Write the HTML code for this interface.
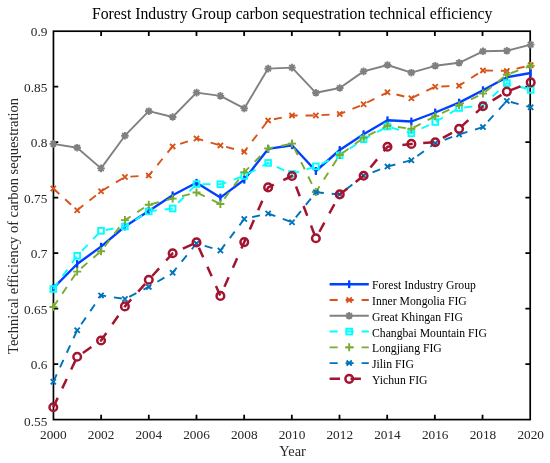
<!DOCTYPE html>
<html><head><meta charset="utf-8"><title>Forest Industry Group carbon sequestration technical efficiency</title>
<style>html,body{margin:0;padding:0;background:#fff}svg{display:block}text{font-family:"Liberation Serif","Times New Roman",serif;fill:#262626}</style></head><body>
<svg width="550" height="463" viewBox="0 0 550 463">
<rect width="550" height="463" fill="#fff"/>
<text x="292.2" y="18.9" font-size="15.73" text-anchor="middle" fill="#000" style="fill:#000">Forest Industry Group carbon sequestration technical efficiency</text>
<rect x="53.45" y="31.2" width="476.75" height="388.40" fill="none" stroke="#000" stroke-width="1.7"/>
<path d="M101.12 419.60v-4.8M101.12 31.20v4.8M148.80 419.60v-4.8M148.80 31.20v4.8M196.48 419.60v-4.8M196.48 31.20v4.8M244.15 419.60v-4.8M244.15 31.20v4.8M291.83 419.60v-4.8M291.83 31.20v4.8M339.50 419.60v-4.8M339.50 31.20v4.8M387.18 419.60v-4.8M387.18 31.20v4.8M434.85 419.60v-4.8M434.85 31.20v4.8M482.53 419.60v-4.8M482.53 31.20v4.8M53.45 364.11h4.8M530.20 364.11h-4.8M53.45 308.63h4.8M530.20 308.63h-4.8M53.45 253.14h4.8M530.20 253.14h-4.8M53.45 197.66h4.8M530.20 197.66h-4.8M53.45 142.17h4.8M530.20 142.17h-4.8M53.45 86.69h4.8M530.20 86.69h-4.8" stroke="#000" stroke-width="1.8" fill="none"/>
<g><polyline points="53.30,288.20 77.17,264.00 101.04,246.60 124.91,226.50 148.78,210.90 172.65,195.30 196.52,182.80 220.39,197.60 244.26,179.70 268.13,148.90 292.00,145.20 315.87,171.00 339.74,150.00 363.61,134.20 387.48,120.30 411.35,121.50 435.22,112.50 459.09,102.60 482.96,90.20 506.83,77.30 530.70,73.00" fill="none" stroke="#0040ff" stroke-width="2.4" stroke-linejoin="round"/>
<path d="M53.30 284.30V292.10" stroke="#0040ff" stroke-width="2.3" fill="none"/>
<path d="M77.17 260.10V267.90" stroke="#0040ff" stroke-width="2.3" fill="none"/>
<path d="M101.04 242.70V250.50" stroke="#0040ff" stroke-width="2.3" fill="none"/>
<path d="M124.91 222.60V230.40" stroke="#0040ff" stroke-width="2.3" fill="none"/>
<path d="M148.78 207.00V214.80" stroke="#0040ff" stroke-width="2.3" fill="none"/>
<path d="M172.65 191.40V199.20" stroke="#0040ff" stroke-width="2.3" fill="none"/>
<path d="M196.52 178.90V186.70" stroke="#0040ff" stroke-width="2.3" fill="none"/>
<path d="M220.39 193.70V201.50" stroke="#0040ff" stroke-width="2.3" fill="none"/>
<path d="M244.26 175.80V183.60" stroke="#0040ff" stroke-width="2.3" fill="none"/>
<path d="M268.13 145.00V152.80" stroke="#0040ff" stroke-width="2.3" fill="none"/>
<path d="M292.00 141.30V149.10" stroke="#0040ff" stroke-width="2.3" fill="none"/>
<path d="M315.87 167.10V174.90" stroke="#0040ff" stroke-width="2.3" fill="none"/>
<path d="M339.74 146.10V153.90" stroke="#0040ff" stroke-width="2.3" fill="none"/>
<path d="M363.61 130.30V138.10" stroke="#0040ff" stroke-width="2.3" fill="none"/>
<path d="M387.48 116.40V124.20" stroke="#0040ff" stroke-width="2.3" fill="none"/>
<path d="M411.35 117.60V125.40" stroke="#0040ff" stroke-width="2.3" fill="none"/>
<path d="M435.22 108.60V116.40" stroke="#0040ff" stroke-width="2.3" fill="none"/>
<path d="M459.09 98.70V106.50" stroke="#0040ff" stroke-width="2.3" fill="none"/>
<path d="M482.96 86.30V94.10" stroke="#0040ff" stroke-width="2.3" fill="none"/>
<path d="M506.83 73.40V81.20" stroke="#0040ff" stroke-width="2.3" fill="none"/>
<path d="M530.70 69.10V76.90" stroke="#0040ff" stroke-width="2.3" fill="none"/>
</g>
<g><polyline points="53.30,188.50 77.17,210.20 101.04,191.30 124.91,177.00 148.78,175.50 172.65,146.40 196.52,138.50 220.39,145.40 244.26,151.70 268.13,120.40 292.00,115.50 315.87,115.50 339.74,114.00 363.61,104.30 387.48,92.30 411.35,98.20 435.22,86.70 459.09,85.70 482.96,70.40 506.83,70.90 530.70,65.30" fill="none" stroke="#d95319" stroke-width="1.9" stroke-linejoin="round" stroke-dasharray="8.1,7.9"/>
<path d="M50.70 185.90L55.90 191.10M50.70 191.10L55.90 185.90" stroke="#d95319" stroke-width="1.9" fill="none"/>
<path d="M74.57 207.60L79.77 212.80M74.57 212.80L79.77 207.60" stroke="#d95319" stroke-width="1.9" fill="none"/>
<path d="M98.44 188.70L103.64 193.90M98.44 193.90L103.64 188.70" stroke="#d95319" stroke-width="1.9" fill="none"/>
<path d="M122.31 174.40L127.51 179.60M122.31 179.60L127.51 174.40" stroke="#d95319" stroke-width="1.9" fill="none"/>
<path d="M146.18 172.90L151.38 178.10M146.18 178.10L151.38 172.90" stroke="#d95319" stroke-width="1.9" fill="none"/>
<path d="M170.05 143.80L175.25 149.00M170.05 149.00L175.25 143.80" stroke="#d95319" stroke-width="1.9" fill="none"/>
<path d="M193.92 135.90L199.12 141.10M193.92 141.10L199.12 135.90" stroke="#d95319" stroke-width="1.9" fill="none"/>
<path d="M217.79 142.80L222.99 148.00M217.79 148.00L222.99 142.80" stroke="#d95319" stroke-width="1.9" fill="none"/>
<path d="M241.66 149.10L246.86 154.30M241.66 154.30L246.86 149.10" stroke="#d95319" stroke-width="1.9" fill="none"/>
<path d="M265.53 117.80L270.73 123.00M265.53 123.00L270.73 117.80" stroke="#d95319" stroke-width="1.9" fill="none"/>
<path d="M289.40 112.90L294.60 118.10M289.40 118.10L294.60 112.90" stroke="#d95319" stroke-width="1.9" fill="none"/>
<path d="M313.27 112.90L318.47 118.10M313.27 118.10L318.47 112.90" stroke="#d95319" stroke-width="1.9" fill="none"/>
<path d="M337.14 111.40L342.34 116.60M337.14 116.60L342.34 111.40" stroke="#d95319" stroke-width="1.9" fill="none"/>
<path d="M361.01 101.70L366.21 106.90M361.01 106.90L366.21 101.70" stroke="#d95319" stroke-width="1.9" fill="none"/>
<path d="M384.88 89.70L390.08 94.90M384.88 94.90L390.08 89.70" stroke="#d95319" stroke-width="1.9" fill="none"/>
<path d="M408.75 95.60L413.95 100.80M408.75 100.80L413.95 95.60" stroke="#d95319" stroke-width="1.9" fill="none"/>
<path d="M432.62 84.10L437.82 89.30M432.62 89.30L437.82 84.10" stroke="#d95319" stroke-width="1.9" fill="none"/>
<path d="M456.49 83.10L461.69 88.30M456.49 88.30L461.69 83.10" stroke="#d95319" stroke-width="1.9" fill="none"/>
<path d="M480.36 67.80L485.56 73.00M480.36 73.00L485.56 67.80" stroke="#d95319" stroke-width="1.9" fill="none"/>
<path d="M504.23 68.30L509.43 73.50M504.23 73.50L509.43 68.30" stroke="#d95319" stroke-width="1.9" fill="none"/>
<path d="M528.10 62.70L533.30 67.90M528.10 67.90L533.30 62.70" stroke="#d95319" stroke-width="1.9" fill="none"/>
</g>
<g><polyline points="53.30,143.90 77.17,147.70 101.04,168.40 124.91,135.70 148.78,111.20 172.65,117.00 196.52,92.60 220.39,95.90 244.26,108.40 268.13,68.60 292.00,67.60 315.87,92.80 339.74,88.00 363.61,71.40 387.48,65.00 411.35,72.70 435.22,65.80 459.09,62.80 482.96,51.30 506.83,50.80 530.70,44.60" fill="none" stroke="#808080" stroke-width="1.9" stroke-linejoin="round"/>
<path d="M49.50 143.90H57.10M53.30 140.10V147.70M50.60 141.20L56.00 146.60M50.60 146.60L56.00 141.20" stroke="#808080" stroke-width="1.9" fill="none"/>
<path d="M73.37 147.70H80.97M77.17 143.90V151.50M74.47 145.00L79.87 150.40M74.47 150.40L79.87 145.00" stroke="#808080" stroke-width="1.9" fill="none"/>
<path d="M97.24 168.40H104.84M101.04 164.60V172.20M98.34 165.70L103.74 171.10M98.34 171.10L103.74 165.70" stroke="#808080" stroke-width="1.9" fill="none"/>
<path d="M121.11 135.70H128.71M124.91 131.90V139.50M122.21 133.00L127.61 138.40M122.21 138.40L127.61 133.00" stroke="#808080" stroke-width="1.9" fill="none"/>
<path d="M144.98 111.20H152.58M148.78 107.40V115.00M146.08 108.50L151.48 113.90M146.08 113.90L151.48 108.50" stroke="#808080" stroke-width="1.9" fill="none"/>
<path d="M168.85 117.00H176.45M172.65 113.20V120.80M169.95 114.30L175.35 119.70M169.95 119.70L175.35 114.30" stroke="#808080" stroke-width="1.9" fill="none"/>
<path d="M192.72 92.60H200.32M196.52 88.80V96.40M193.82 89.90L199.22 95.30M193.82 95.30L199.22 89.90" stroke="#808080" stroke-width="1.9" fill="none"/>
<path d="M216.59 95.90H224.19M220.39 92.10V99.70M217.69 93.20L223.09 98.60M217.69 98.60L223.09 93.20" stroke="#808080" stroke-width="1.9" fill="none"/>
<path d="M240.46 108.40H248.06M244.26 104.60V112.20M241.56 105.70L246.96 111.10M241.56 111.10L246.96 105.70" stroke="#808080" stroke-width="1.9" fill="none"/>
<path d="M264.33 68.60H271.93M268.13 64.80V72.40M265.43 65.90L270.83 71.30M265.43 71.30L270.83 65.90" stroke="#808080" stroke-width="1.9" fill="none"/>
<path d="M288.20 67.60H295.80M292.00 63.80V71.40M289.30 64.90L294.70 70.30M289.30 70.30L294.70 64.90" stroke="#808080" stroke-width="1.9" fill="none"/>
<path d="M312.07 92.80H319.67M315.87 89.00V96.60M313.17 90.10L318.57 95.50M313.17 95.50L318.57 90.10" stroke="#808080" stroke-width="1.9" fill="none"/>
<path d="M335.94 88.00H343.54M339.74 84.20V91.80M337.04 85.30L342.44 90.70M337.04 90.70L342.44 85.30" stroke="#808080" stroke-width="1.9" fill="none"/>
<path d="M359.81 71.40H367.41M363.61 67.60V75.20M360.91 68.70L366.31 74.10M360.91 74.10L366.31 68.70" stroke="#808080" stroke-width="1.9" fill="none"/>
<path d="M383.68 65.00H391.28M387.48 61.20V68.80M384.78 62.30L390.18 67.70M384.78 67.70L390.18 62.30" stroke="#808080" stroke-width="1.9" fill="none"/>
<path d="M407.55 72.70H415.15M411.35 68.90V76.50M408.65 70.00L414.05 75.40M408.65 75.40L414.05 70.00" stroke="#808080" stroke-width="1.9" fill="none"/>
<path d="M431.42 65.80H439.02M435.22 62.00V69.60M432.52 63.10L437.92 68.50M432.52 68.50L437.92 63.10" stroke="#808080" stroke-width="1.9" fill="none"/>
<path d="M455.29 62.80H462.89M459.09 59.00V66.60M456.39 60.10L461.79 65.50M456.39 65.50L461.79 60.10" stroke="#808080" stroke-width="1.9" fill="none"/>
<path d="M479.16 51.30H486.76M482.96 47.50V55.10M480.26 48.60L485.66 54.00M480.26 54.00L485.66 48.60" stroke="#808080" stroke-width="1.9" fill="none"/>
<path d="M503.03 50.80H510.63M506.83 47.00V54.60M504.13 48.10L509.53 53.50M504.13 53.50L509.53 48.10" stroke="#808080" stroke-width="1.9" fill="none"/>
<path d="M526.90 44.60H534.50M530.70 40.80V48.40M528.00 41.90L533.40 47.30M528.00 47.30L533.40 41.90" stroke="#808080" stroke-width="1.9" fill="none"/>
</g>
<g><polyline points="53.30,289.00 77.17,255.80 101.04,230.80 124.91,226.50 148.78,211.40 172.65,208.50 196.52,184.10 220.39,184.30 244.26,175.90 268.13,162.90 292.00,173.90 315.87,166.40 339.74,155.30 363.61,139.30 387.48,126.50 411.35,133.30 435.22,122.00 459.09,108.00 482.96,105.50 506.83,83.10 530.70,89.90" fill="none" stroke="#00ffff" stroke-width="1.9" stroke-linejoin="round" stroke-dasharray="8.1,7.9"/>
<rect x="50.45" y="286.15" width="5.70" height="5.70" stroke="#00ffff" stroke-width="1.9" fill="none"/>
<rect x="74.32" y="252.95" width="5.70" height="5.70" stroke="#00ffff" stroke-width="1.9" fill="none"/>
<rect x="98.19" y="227.95" width="5.70" height="5.70" stroke="#00ffff" stroke-width="1.9" fill="none"/>
<rect x="122.06" y="223.65" width="5.70" height="5.70" stroke="#00ffff" stroke-width="1.9" fill="none"/>
<rect x="145.93" y="208.55" width="5.70" height="5.70" stroke="#00ffff" stroke-width="1.9" fill="none"/>
<rect x="169.80" y="205.65" width="5.70" height="5.70" stroke="#00ffff" stroke-width="1.9" fill="none"/>
<rect x="193.67" y="181.25" width="5.70" height="5.70" stroke="#00ffff" stroke-width="1.9" fill="none"/>
<rect x="217.54" y="181.45" width="5.70" height="5.70" stroke="#00ffff" stroke-width="1.9" fill="none"/>
<rect x="241.41" y="173.05" width="5.70" height="5.70" stroke="#00ffff" stroke-width="1.9" fill="none"/>
<rect x="265.28" y="160.05" width="5.70" height="5.70" stroke="#00ffff" stroke-width="1.9" fill="none"/>
<rect x="289.15" y="171.05" width="5.70" height="5.70" stroke="#00ffff" stroke-width="1.9" fill="none"/>
<rect x="313.02" y="163.55" width="5.70" height="5.70" stroke="#00ffff" stroke-width="1.9" fill="none"/>
<rect x="336.89" y="152.45" width="5.70" height="5.70" stroke="#00ffff" stroke-width="1.9" fill="none"/>
<rect x="360.76" y="136.45" width="5.70" height="5.70" stroke="#00ffff" stroke-width="1.9" fill="none"/>
<rect x="384.63" y="123.65" width="5.70" height="5.70" stroke="#00ffff" stroke-width="1.9" fill="none"/>
<rect x="408.50" y="130.45" width="5.70" height="5.70" stroke="#00ffff" stroke-width="1.9" fill="none"/>
<rect x="432.37" y="119.15" width="5.70" height="5.70" stroke="#00ffff" stroke-width="1.9" fill="none"/>
<rect x="456.24" y="105.15" width="5.70" height="5.70" stroke="#00ffff" stroke-width="1.9" fill="none"/>
<rect x="480.11" y="102.65" width="5.70" height="5.70" stroke="#00ffff" stroke-width="1.9" fill="none"/>
<rect x="503.98" y="80.25" width="5.70" height="5.70" stroke="#00ffff" stroke-width="1.9" fill="none"/>
<rect x="527.85" y="87.05" width="5.70" height="5.70" stroke="#00ffff" stroke-width="1.9" fill="none"/>
</g>
<g><polyline points="53.30,307.00 77.17,271.60 101.04,251.20 124.91,220.10 148.78,204.80 172.65,198.60 196.52,192.50 220.39,204.00 244.26,172.10 268.13,148.40 292.00,143.60 315.87,192.00 339.74,155.00 363.61,137.80 387.48,125.60 411.35,128.80 435.22,116.20 459.09,105.20 482.96,93.60 506.83,74.70 530.70,65.80" fill="none" stroke="#77ac30" stroke-width="1.9" stroke-linejoin="round" stroke-dasharray="8.1,7.9"/>
<path d="M49.30 307.00H57.30M53.30 303.00V311.00" stroke="#77ac30" stroke-width="1.9" fill="none"/>
<path d="M73.17 271.60H81.17M77.17 267.60V275.60" stroke="#77ac30" stroke-width="1.9" fill="none"/>
<path d="M97.04 251.20H105.04M101.04 247.20V255.20" stroke="#77ac30" stroke-width="1.9" fill="none"/>
<path d="M120.91 220.10H128.91M124.91 216.10V224.10" stroke="#77ac30" stroke-width="1.9" fill="none"/>
<path d="M144.78 204.80H152.78M148.78 200.80V208.80" stroke="#77ac30" stroke-width="1.9" fill="none"/>
<path d="M168.65 198.60H176.65M172.65 194.60V202.60" stroke="#77ac30" stroke-width="1.9" fill="none"/>
<path d="M192.52 192.50H200.52M196.52 188.50V196.50" stroke="#77ac30" stroke-width="1.9" fill="none"/>
<path d="M216.39 204.00H224.39M220.39 200.00V208.00" stroke="#77ac30" stroke-width="1.9" fill="none"/>
<path d="M240.26 172.10H248.26M244.26 168.10V176.10" stroke="#77ac30" stroke-width="1.9" fill="none"/>
<path d="M264.13 148.40H272.13M268.13 144.40V152.40" stroke="#77ac30" stroke-width="1.9" fill="none"/>
<path d="M288.00 143.60H296.00M292.00 139.60V147.60" stroke="#77ac30" stroke-width="1.9" fill="none"/>
<path d="M311.87 192.00H319.87M315.87 188.00V196.00" stroke="#77ac30" stroke-width="1.9" fill="none"/>
<path d="M335.74 155.00H343.74M339.74 151.00V159.00" stroke="#77ac30" stroke-width="1.9" fill="none"/>
<path d="M359.61 137.80H367.61M363.61 133.80V141.80" stroke="#77ac30" stroke-width="1.9" fill="none"/>
<path d="M383.48 125.60H391.48M387.48 121.60V129.60" stroke="#77ac30" stroke-width="1.9" fill="none"/>
<path d="M407.35 128.80H415.35M411.35 124.80V132.80" stroke="#77ac30" stroke-width="1.9" fill="none"/>
<path d="M431.22 116.20H439.22M435.22 112.20V120.20" stroke="#77ac30" stroke-width="1.9" fill="none"/>
<path d="M455.09 105.20H463.09M459.09 101.20V109.20" stroke="#77ac30" stroke-width="1.9" fill="none"/>
<path d="M478.96 93.60H486.96M482.96 89.60V97.60" stroke="#77ac30" stroke-width="1.9" fill="none"/>
<path d="M502.83 74.70H510.83M506.83 70.70V78.70" stroke="#77ac30" stroke-width="1.9" fill="none"/>
<path d="M526.70 65.80H534.70M530.70 61.80V69.80" stroke="#77ac30" stroke-width="1.9" fill="none"/>
</g>
<g><polyline points="53.30,381.80 77.17,330.30 101.04,295.40 124.91,299.00 148.78,286.90 172.65,272.70 196.52,243.40 220.39,250.50 244.26,219.00 268.13,213.50 292.00,222.20 315.87,192.30 339.74,194.50 363.61,175.80 387.48,166.60 411.35,160.20 435.22,143.30 459.09,134.40 482.96,127.10 506.83,100.90 530.70,107.30" fill="none" stroke="#0072bd" stroke-width="1.9" stroke-linejoin="round" stroke-dasharray="8.1,7.9"/>
<path d="M50.70 379.20L55.90 384.40M50.70 384.40L55.90 379.20" stroke="#0072bd" stroke-width="1.9" fill="none"/>
<path d="M74.57 327.70L79.77 332.90M74.57 332.90L79.77 327.70" stroke="#0072bd" stroke-width="1.9" fill="none"/>
<path d="M98.44 292.80L103.64 298.00M98.44 298.00L103.64 292.80" stroke="#0072bd" stroke-width="1.9" fill="none"/>
<path d="M122.31 296.40L127.51 301.60M122.31 301.60L127.51 296.40" stroke="#0072bd" stroke-width="1.9" fill="none"/>
<path d="M146.18 284.30L151.38 289.50M146.18 289.50L151.38 284.30" stroke="#0072bd" stroke-width="1.9" fill="none"/>
<path d="M170.05 270.10L175.25 275.30M170.05 275.30L175.25 270.10" stroke="#0072bd" stroke-width="1.9" fill="none"/>
<path d="M193.92 240.80L199.12 246.00M193.92 246.00L199.12 240.80" stroke="#0072bd" stroke-width="1.9" fill="none"/>
<path d="M217.79 247.90L222.99 253.10M217.79 253.10L222.99 247.90" stroke="#0072bd" stroke-width="1.9" fill="none"/>
<path d="M241.66 216.40L246.86 221.60M241.66 221.60L246.86 216.40" stroke="#0072bd" stroke-width="1.9" fill="none"/>
<path d="M265.53 210.90L270.73 216.10M265.53 216.10L270.73 210.90" stroke="#0072bd" stroke-width="1.9" fill="none"/>
<path d="M289.40 219.60L294.60 224.80M289.40 224.80L294.60 219.60" stroke="#0072bd" stroke-width="1.9" fill="none"/>
<path d="M313.27 189.70L318.47 194.90M313.27 194.90L318.47 189.70" stroke="#0072bd" stroke-width="1.9" fill="none"/>
<path d="M337.14 191.90L342.34 197.10M337.14 197.10L342.34 191.90" stroke="#0072bd" stroke-width="1.9" fill="none"/>
<path d="M361.01 173.20L366.21 178.40M361.01 178.40L366.21 173.20" stroke="#0072bd" stroke-width="1.9" fill="none"/>
<path d="M384.88 164.00L390.08 169.20M384.88 169.20L390.08 164.00" stroke="#0072bd" stroke-width="1.9" fill="none"/>
<path d="M408.75 157.60L413.95 162.80M408.75 162.80L413.95 157.60" stroke="#0072bd" stroke-width="1.9" fill="none"/>
<path d="M432.62 140.70L437.82 145.90M432.62 145.90L437.82 140.70" stroke="#0072bd" stroke-width="1.9" fill="none"/>
<path d="M456.49 131.80L461.69 137.00M456.49 137.00L461.69 131.80" stroke="#0072bd" stroke-width="1.9" fill="none"/>
<path d="M480.36 124.50L485.56 129.70M480.36 129.70L485.56 124.50" stroke="#0072bd" stroke-width="1.9" fill="none"/>
<path d="M504.23 98.30L509.43 103.50M504.23 103.50L509.43 98.30" stroke="#0072bd" stroke-width="1.9" fill="none"/>
<path d="M528.10 104.70L533.30 109.90M528.10 109.90L533.30 104.70" stroke="#0072bd" stroke-width="1.9" fill="none"/>
</g>
<g><polyline points="53.30,407.30 77.17,356.80 101.04,340.50 124.91,306.40 148.78,279.80 172.65,253.30 196.52,242.40 220.39,295.90 244.26,242.10 268.13,187.40 292.00,176.00 315.87,238.20 339.74,194.40 363.61,175.80 387.48,146.70 411.35,143.90 435.22,142.20 459.09,128.80 482.96,106.30 506.83,91.60 530.70,82.40" fill="none" stroke="#a2142f" stroke-width="2.5" stroke-linejoin="round" stroke-dasharray="10.4,10.5"/>
<circle cx="53.30" cy="407.30" r="3.80" stroke="#a2142f" stroke-width="2.5" fill="none"/>
<circle cx="77.17" cy="356.80" r="3.80" stroke="#a2142f" stroke-width="2.5" fill="none"/>
<circle cx="101.04" cy="340.50" r="3.80" stroke="#a2142f" stroke-width="2.5" fill="none"/>
<circle cx="124.91" cy="306.40" r="3.80" stroke="#a2142f" stroke-width="2.5" fill="none"/>
<circle cx="148.78" cy="279.80" r="3.80" stroke="#a2142f" stroke-width="2.5" fill="none"/>
<circle cx="172.65" cy="253.30" r="3.80" stroke="#a2142f" stroke-width="2.5" fill="none"/>
<circle cx="196.52" cy="242.40" r="3.80" stroke="#a2142f" stroke-width="2.5" fill="none"/>
<circle cx="220.39" cy="295.90" r="3.80" stroke="#a2142f" stroke-width="2.5" fill="none"/>
<circle cx="244.26" cy="242.10" r="3.80" stroke="#a2142f" stroke-width="2.5" fill="none"/>
<circle cx="268.13" cy="187.40" r="3.80" stroke="#a2142f" stroke-width="2.5" fill="none"/>
<circle cx="292.00" cy="176.00" r="3.80" stroke="#a2142f" stroke-width="2.5" fill="none"/>
<circle cx="315.87" cy="238.20" r="3.80" stroke="#a2142f" stroke-width="2.5" fill="none"/>
<circle cx="339.74" cy="194.40" r="3.80" stroke="#a2142f" stroke-width="2.5" fill="none"/>
<circle cx="363.61" cy="175.80" r="3.80" stroke="#a2142f" stroke-width="2.5" fill="none"/>
<circle cx="387.48" cy="146.70" r="3.80" stroke="#a2142f" stroke-width="2.5" fill="none"/>
<circle cx="411.35" cy="143.90" r="3.80" stroke="#a2142f" stroke-width="2.5" fill="none"/>
<circle cx="435.22" cy="142.20" r="3.80" stroke="#a2142f" stroke-width="2.5" fill="none"/>
<circle cx="459.09" cy="128.80" r="3.80" stroke="#a2142f" stroke-width="2.5" fill="none"/>
<circle cx="482.96" cy="106.30" r="3.80" stroke="#a2142f" stroke-width="2.5" fill="none"/>
<circle cx="506.83" cy="91.60" r="3.80" stroke="#a2142f" stroke-width="2.5" fill="none"/>
<circle cx="530.70" cy="82.40" r="3.80" stroke="#a2142f" stroke-width="2.5" fill="none"/>
</g>
<text x="53.30" y="438.6" font-size="13.3" text-anchor="middle">2000</text>
<text x="101.04" y="438.6" font-size="13.3" text-anchor="middle">2002</text>
<text x="148.78" y="438.6" font-size="13.3" text-anchor="middle">2004</text>
<text x="196.52" y="438.6" font-size="13.3" text-anchor="middle">2006</text>
<text x="244.26" y="438.6" font-size="13.3" text-anchor="middle">2008</text>
<text x="292.00" y="438.6" font-size="13.3" text-anchor="middle">2010</text>
<text x="339.74" y="438.6" font-size="13.3" text-anchor="middle">2012</text>
<text x="387.48" y="438.6" font-size="13.3" text-anchor="middle">2014</text>
<text x="435.22" y="438.6" font-size="13.3" text-anchor="middle">2016</text>
<text x="482.96" y="438.6" font-size="13.3" text-anchor="middle">2018</text>
<text x="530.70" y="438.6" font-size="13.3" text-anchor="middle">2020</text>
<text x="47.4" y="425.60" font-size="13.3" text-anchor="end">0.55</text>
<text x="47.4" y="369.21" font-size="13.3" text-anchor="end">0.6</text>
<text x="47.4" y="313.73" font-size="13.3" text-anchor="end">0.65</text>
<text x="47.4" y="258.24" font-size="13.3" text-anchor="end">0.7</text>
<text x="47.4" y="202.76" font-size="13.3" text-anchor="end">0.75</text>
<text x="47.4" y="147.27" font-size="13.3" text-anchor="end">0.8</text>
<text x="47.4" y="91.79" font-size="13.3" text-anchor="end">0.85</text>
<text x="47.4" y="36.30" font-size="13.3" text-anchor="end">0.9</text>
<text x="292.6" y="455.6" font-size="14.4" text-anchor="middle">Year</text>
<text transform="translate(17.9,226.0) rotate(-90)" font-size="14.47" text-anchor="middle">Technical efficiency of carbon sequestration</text>
<path d="M329.6 284.25H368.8" stroke="#0040ff" stroke-width="2.4" fill="none"/>
<path d="M349.20 280.35V288.15" stroke="#0040ff" stroke-width="2.3" fill="none"/>
<text x="372.0" y="289.35" font-size="11.7" style="fill:#000">Forest Industry Group</text>
<path d="M329.6 300.02H368.8" stroke="#d95319" stroke-width="1.9" fill="none" stroke-dasharray="8.1,7.9"/>
<path d="M346.60 297.42L351.80 302.62M346.60 302.62L351.80 297.42" stroke="#d95319" stroke-width="1.9" fill="none"/>
<text x="372.0" y="305.12" font-size="11.7" style="fill:#000">Inner Mongolia FIG</text>
<path d="M329.6 315.79H368.8" stroke="#808080" stroke-width="1.9" fill="none"/>
<path d="M345.40 315.79H353.00M349.20 311.99V319.59M346.50 313.09L351.90 318.49M346.50 318.49L351.90 313.09" stroke="#808080" stroke-width="1.9" fill="none"/>
<text x="372.0" y="320.89" font-size="11.7" style="fill:#000">Great Khingan FIG</text>
<path d="M329.6 331.56H368.8" stroke="#00ffff" stroke-width="1.9" fill="none" stroke-dasharray="8.1,7.9"/>
<rect x="346.35" y="328.71" width="5.70" height="5.70" stroke="#00ffff" stroke-width="1.9" fill="none"/>
<text x="372.0" y="336.66" font-size="11.7" style="fill:#000">Changbai Mountain FIG</text>
<path d="M329.6 347.33H368.8" stroke="#77ac30" stroke-width="1.9" fill="none" stroke-dasharray="8.1,7.9"/>
<path d="M345.20 347.33H353.20M349.20 343.33V351.33" stroke="#77ac30" stroke-width="1.9" fill="none"/>
<text x="372.0" y="352.43" font-size="11.7" style="fill:#000">Longjiang FIG</text>
<path d="M329.6 363.10H368.8" stroke="#0072bd" stroke-width="1.9" fill="none" stroke-dasharray="8.1,7.9"/>
<path d="M346.60 360.50L351.80 365.70M346.60 365.70L351.80 360.50" stroke="#0072bd" stroke-width="1.9" fill="none"/>
<text x="372.0" y="368.20" font-size="11.7" style="fill:#000">Jilin FIG</text>
<path d="M329.6 378.87H368.8" stroke="#a2142f" stroke-width="2.5" fill="none" stroke-dasharray="10.4,10.5"/>
<circle cx="349.20" cy="378.87" r="3.80" stroke="#a2142f" stroke-width="2.5" fill="none"/>
<text x="372.0" y="383.97" font-size="11.7" style="fill:#000">Yichun FIG</text>
</svg></body></html>
